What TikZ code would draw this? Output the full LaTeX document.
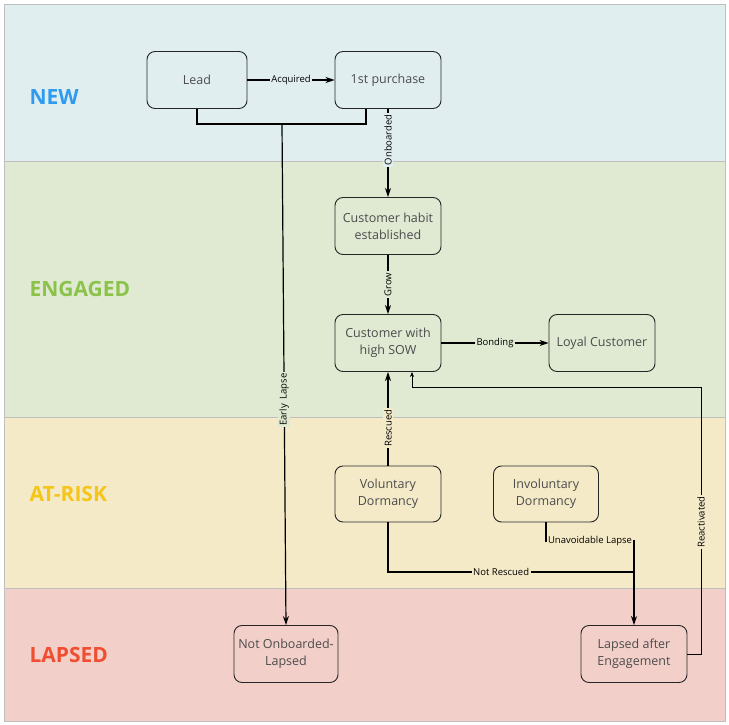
\documentclass[tikz,border=0pt]{standalone}
\usepackage{fontspec}
\setmainfont{Open Sans}
\usetikzlibrary{arrows.meta}
\definecolor{bnew}{HTML}{E1EEF0}
\definecolor{beng}{HTML}{E0EAD2}
\definecolor{brisk}{HTML}{F4EAC8}
\definecolor{blap}{HTML}{F2D0C9}
\definecolor{cnew}{HTML}{2F9BF0}
\definecolor{ceng}{HTML}{8BC34A}
\definecolor{crisk}{HTML}{F5C518}
\definecolor{clap}{HTML}{F04E30}
\tikzset{
 band/.style={draw=gray!50,line width=0.8pt},
 title/.style={font=\bfseries\fontsize{21}{24}\selectfont,anchor=west},
 state/.style={draw=black!85,rounded corners=8pt,line width=0.9pt,minimum width=106pt,minimum height=57pt,align=center,text=black!70,font=\fontsize{12.5}{17}\selectfont},
 conn/.style={line width=1.2pt,black},
 arr/.style={conn,-{Stealth[length=9pt,width=6pt]}},
 lab/.style={fill=#1,font=\fontsize{9.5}{11}\selectfont,inner sep=1.5pt,text=black}
}
\begin{document}
\begin{tikzpicture}[x=1pt,y=-1pt]
\useasboundingbox (0,0) rectangle (729,725);
\fill[white] (0,0) rectangle (729,725);
\draw[band,fill=bnew] (4,4) rectangle (725,161);
\draw[band,fill=beng] (4,161) rectangle (725,417);
\draw[band,fill=brisk] (4,417) rectangle (725,588);
\draw[band,fill=blap] (4,588) rectangle (725,721);
\node[title,text=cnew] (tnew) at (26,97) {NEW};
\node[title,text=ceng] (teng) at (26,289) {ENGAGED};
\node[title,text=crisk] (trisk) at (26,494) {AT-RISK};
\node[title,text=clap] (tlap) at (26,655) {LAPSED};

\node[state,minimum width=100pt,fill=bnew] (lead) at (197,80) {Lead};
\node[state,fill=bnew] (first) at (388,80) {1st purchase};
\node[state,fill=beng] (habit) at (388,226) {Customer habit\\established};
\node[state,fill=beng] (sow) at (388,343) {Customer with\\high SOW};
\node[state,fill=beng] (loyal) at (602,343) {Loyal Customer};
\node[state,fill=brisk,minimum height=56pt] (vol) at (388,494) {Voluntary\\Dormancy};
\node[state,fill=brisk,minimum width=105pt,minimum height=56pt] (invol) at (546,494) {Involuntary\\Dormancy};
\node[state,fill=blap,minimum width=104pt] (nol) at (286,654) {Not Onboarded-\\Lapsed};
\node[state,fill=blap] (lae) at (634,654) {Lapsed after\\Engagement};

\draw[arr] (lead) -- node[lab=bnew]{Acquired} (first);
\coordinate (j1) at (282,124);
\draw[conn] (lead.south) |- (j1) -| ([xshift=-22pt]first.south);
\draw[arr] (j1) -- node[lab=beng,rotate=90,pos=0.55]{Early\ \ Lapse} (nol.north);
\draw[arr] (first) -- node[lab=bnew,rotate=90,pos=0.35]{Onboarded} (habit);
\draw[arr] (habit) -- node[lab=beng,rotate=90]{Grow} (sow);
\draw[arr] (sow) -- node[lab=beng]{Bonding} (loyal);
\draw[arr] (vol) -- node[lab=brisk,rotate=90,pos=0.4]{Rescued} (sow);
\coordinate (j2) at (634,572);
\draw[conn] (vol.south) |- node[lab=brisk,pos=0.73]{Not Rescued} (j2);
\draw[conn] (invol.south) |- node[lab=brisk,pos=0.75]{Unavoidable Lapse} (634,541) -- (j2);
\draw[arr] (j2) -- (lae.north);
\coordinate (r1) at (701,387);
\draw[conn,-{Stealth[length=5pt,width=4pt]},line width=0.6pt] (lae.east) -| (r1) -| ([xshift=24pt]sow.south);
\node[lab=brisk,rotate=90] (rl) at (701,522) {Reactivated};
\end{tikzpicture}
\end{document}
